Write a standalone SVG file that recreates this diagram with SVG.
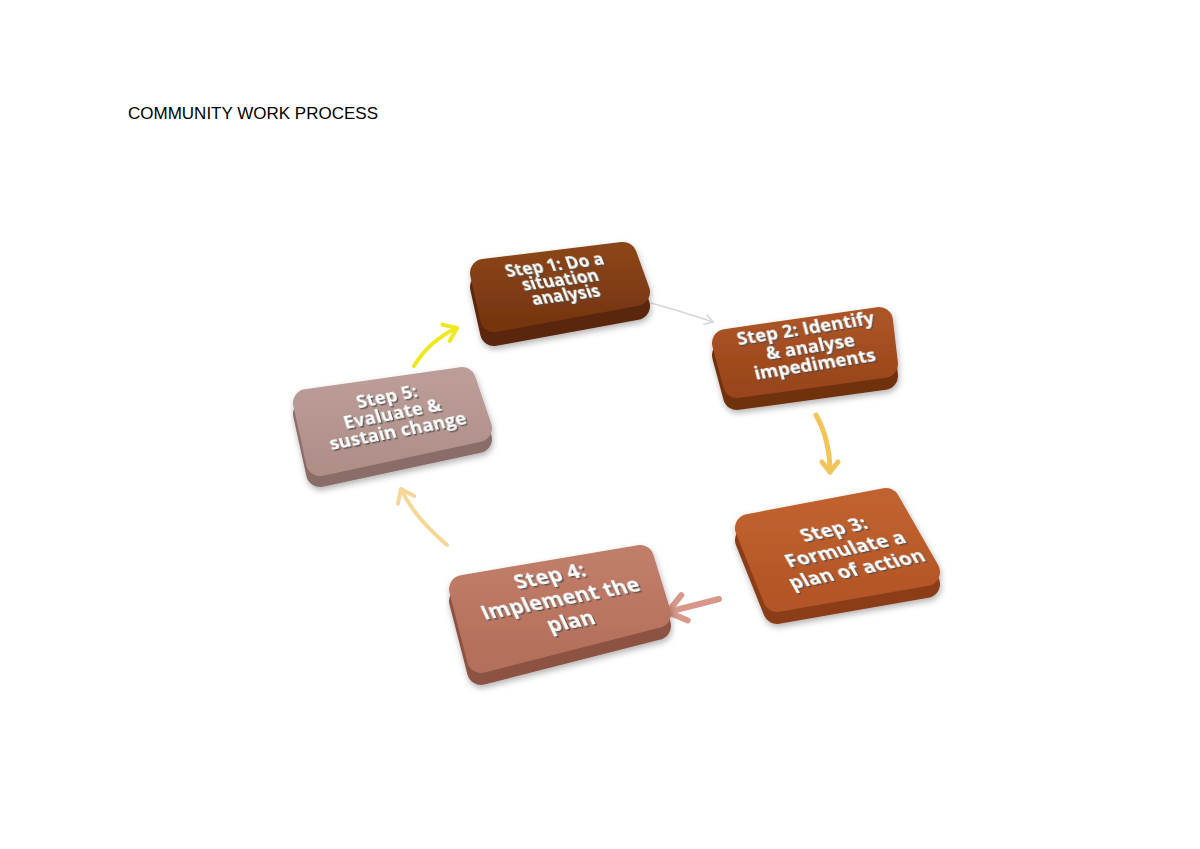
<svg xmlns="http://www.w3.org/2000/svg" width="1200" height="849" viewBox="0 0 1200 849">
<style>
  .title{font-family:"Liberation Sans",Arial,sans-serif;font-size:17px;fill:#000}
  .face{stroke-linejoin:round;stroke-width:28}
  .lbl{font-family:"Open Sans","DejaVu Sans",sans-serif;font-weight:700;fill:#ffffff;text-anchor:middle;filter:url(#txtsh)}
  .arr{fill:none;stroke-linecap:round}
</style>
<defs>
  <filter id="boxsh" x="-20%" y="-20%" width="140%" height="150%">
    <feDropShadow dx="1" dy="3" stdDeviation="3" flood-color="#000" flood-opacity="0.3"/>
  </filter>
  <filter id="txtsh" x="-10%" y="-30%" width="120%" height="160%">
    <feDropShadow dx="1" dy="1.5" stdDeviation="0.7" flood-color="#4a4a4a" flood-opacity="0.9"/>
  </filter>
  <linearGradient id="g1" x1="0" y1="0" x2="0" y2="1"><stop offset="0" stop-color="#8a4419"/><stop offset="1" stop-color="#773610"/></linearGradient>
  <linearGradient id="g2" x1="0" y1="0" x2="0" y2="1"><stop offset="0" stop-color="#ab5426"/><stop offset="1" stop-color="#9a451a"/></linearGradient>
  <linearGradient id="g3" x1="0" y1="0" x2="0" y2="1"><stop offset="0" stop-color="#c0622f"/><stop offset="1" stop-color="#b35526"/></linearGradient>
  <linearGradient id="g4" x1="0" y1="0" x2="0" y2="1"><stop offset="0" stop-color="#c07d68"/><stop offset="1" stop-color="#b46f5b"/></linearGradient>
  <linearGradient id="g5" x1="0" y1="0" x2="0" y2="1"><stop offset="0" stop-color="#bb9c96"/><stop offset="1" stop-color="#b08f89"/></linearGradient>
  <marker id="mGray" markerUnits="userSpaceOnUse" orient="auto" overflow="visible" markerWidth="10" markerHeight="10" refX="0" refY="0">
    <path d="M-8,-5 L0,0 L-8,5" fill="none" stroke="#d6d6d6" stroke-width="1.5" stroke-linecap="round"/>
  </marker>
  <marker id="mGold" markerUnits="userSpaceOnUse" orient="auto" overflow="visible" markerWidth="10" markerHeight="10" refX="0" refY="0">
    <path d="M-10,-8 L0,0 L-10,8" fill="none" stroke="#f2c45a" stroke-width="5" stroke-linecap="round" stroke-linejoin="round"/>
  </marker>
  <marker id="mPink" markerUnits="userSpaceOnUse" orient="auto" overflow="visible" markerWidth="10" markerHeight="10" refX="0" refY="0">
    <path d="M-17,-13 L0,0 L-17,13" fill="none" stroke="#d9978a" stroke-width="6" stroke-linecap="round" stroke-linejoin="round"/>
  </marker>
  <marker id="mTan" markerUnits="userSpaceOnUse" orient="auto" overflow="visible" markerWidth="10" markerHeight="10" refX="0" refY="0">
    <path d="M-12,-9 L0,0 L-12,9" fill="none" stroke="#f5d898" stroke-width="4" stroke-linecap="round" stroke-linejoin="round"/>
  </marker>
  <marker id="mYel" markerUnits="userSpaceOnUse" orient="auto" overflow="visible" markerWidth="10" markerHeight="10" refX="0" refY="0">
    <path d="M-12,-9 L0,0 L-12,9" fill="none" stroke="#eee81c" stroke-width="4" stroke-linecap="round" stroke-linejoin="round"/>
  </marker>
</defs>

<rect x="0" y="0" width="1200" height="849" fill="#ffffff"/>
<text class="title" x="128" y="119">COMMUNITY WORK PROCESS</text>

<g id="connectors">
  <path class="arr" d="M651,303 Q680,311 713,322" stroke="#d6d6d6" stroke-width="1.5" marker-end="url(#mGray)"/>
  <path class="arr" d="M816,415 Q830,440 830,472" stroke="#f2c45a" stroke-width="5" marker-end="url(#mGold)"/>
  <path class="arr" d="M719,599 L668,612" stroke="#d9978a" stroke-width="6" marker-end="url(#mPink)"/>
  <path class="arr" d="M447,545 Q414,517 401,489" stroke="#f5d898" stroke-width="4" marker-end="url(#mTan)"/>
  <path class="arr" d="M414,366 Q430,340 457,328" stroke="#eee81c" stroke-width="4" marker-end="url(#mYel)"/>
</g>

<g id="step1" filter="url(#boxsh)">
  <polygon class="face" points="484,287 623,270 636,306 494,332" fill="#5a270a" stroke="#5a270a"/>
  <polygon class="face" points="484,273 623,256 636,292 494,318" fill="url(#g1)" stroke="url(#g1)"/>
  <g transform="matrix(0.991,-0.131,0.35,0.94,560,280)">
    <text class="lbl" font-size="17" x="0" y="-10">Step 1: Do a</text>
    <text class="lbl" font-size="17" x="0" y="6">situation</text>
    <text class="lbl" font-size="17" x="0" y="22">analysis</text>
  </g>
</g>

<g id="step2" filter="url(#boxsh)">
  <polygon class="face" points="726,355 879,333 884,376 737,396" fill="#70300f" stroke="#70300f"/>
  <polygon class="face" points="726,343 879,321 884,364 737,384" fill="url(#g2)" stroke="url(#g2)"/>
  <g transform="matrix(0.988,-0.156,0.25,0.97,810,346)">
    <text class="lbl" font-size="18.5" x="0" y="-12">Step 2: Identify</text>
    <text class="lbl" font-size="18.5" x="0" y="6.5">&amp; analyse</text>
    <text class="lbl" font-size="18.5" x="0" y="25">impediments</text>
  </g>
</g>

<g id="step3" filter="url(#boxsh)">
  <polygon class="face" points="749,540 886,514 926,584 777,610" fill="#8a3e18" stroke="#8a3e18"/>
  <polygon class="face" points="749,528 886,502 926,572 777,598" fill="url(#g3)" stroke="url(#g3)"/>
  <g transform="matrix(0.978,-0.208,0.5,0.87,845,549)">
    <text class="lbl" font-size="20" x="0" y="-16">Step 3:</text>
    <text class="lbl" font-size="20" x="0" y="7">Formulate a</text>
    <text class="lbl" font-size="20" x="0" y="30">plan of action</text>
  </g>
</g>

<g id="step4" filter="url(#boxsh)">
  <polygon class="face" points="463,601 640,571 657,626 481,671" fill="#8c5242" stroke="#8c5242"/>
  <polygon class="face" points="463,589 640,559 657,614 481,659" fill="url(#g4)" stroke="url(#g4)"/>
  <g transform="matrix(0.983,-0.184,0.42,0.91,560,598)">
    <text class="lbl" font-size="21.5" x="0" y="-16.5">Step 4:</text>
    <text class="lbl" font-size="21.5" x="0" y="8">Implement the</text>
    <text class="lbl" font-size="21.5" x="0" y="32.5">plan</text>
  </g>
</g>

<g id="step5" filter="url(#boxsh)">
  <polygon class="face" points="307,414 462,392 478,439 320,473" fill="#8a6d68" stroke="#8a6d68"/>
  <polygon class="face" points="307,403 462,381 478,428 320,462" fill="url(#g5)" stroke="url(#g5)"/>
  <g transform="matrix(0.982,-0.19,0.3,0.95,392,413)">
    <text class="lbl" font-size="18.5" x="0" y="-11">Step 5:</text>
    <text class="lbl" font-size="18.5" x="0" y="7">Evaluate &amp;</text>
    <text class="lbl" font-size="18.5" x="0" y="25">sustain change</text>
  </g>
</g>
</svg>
